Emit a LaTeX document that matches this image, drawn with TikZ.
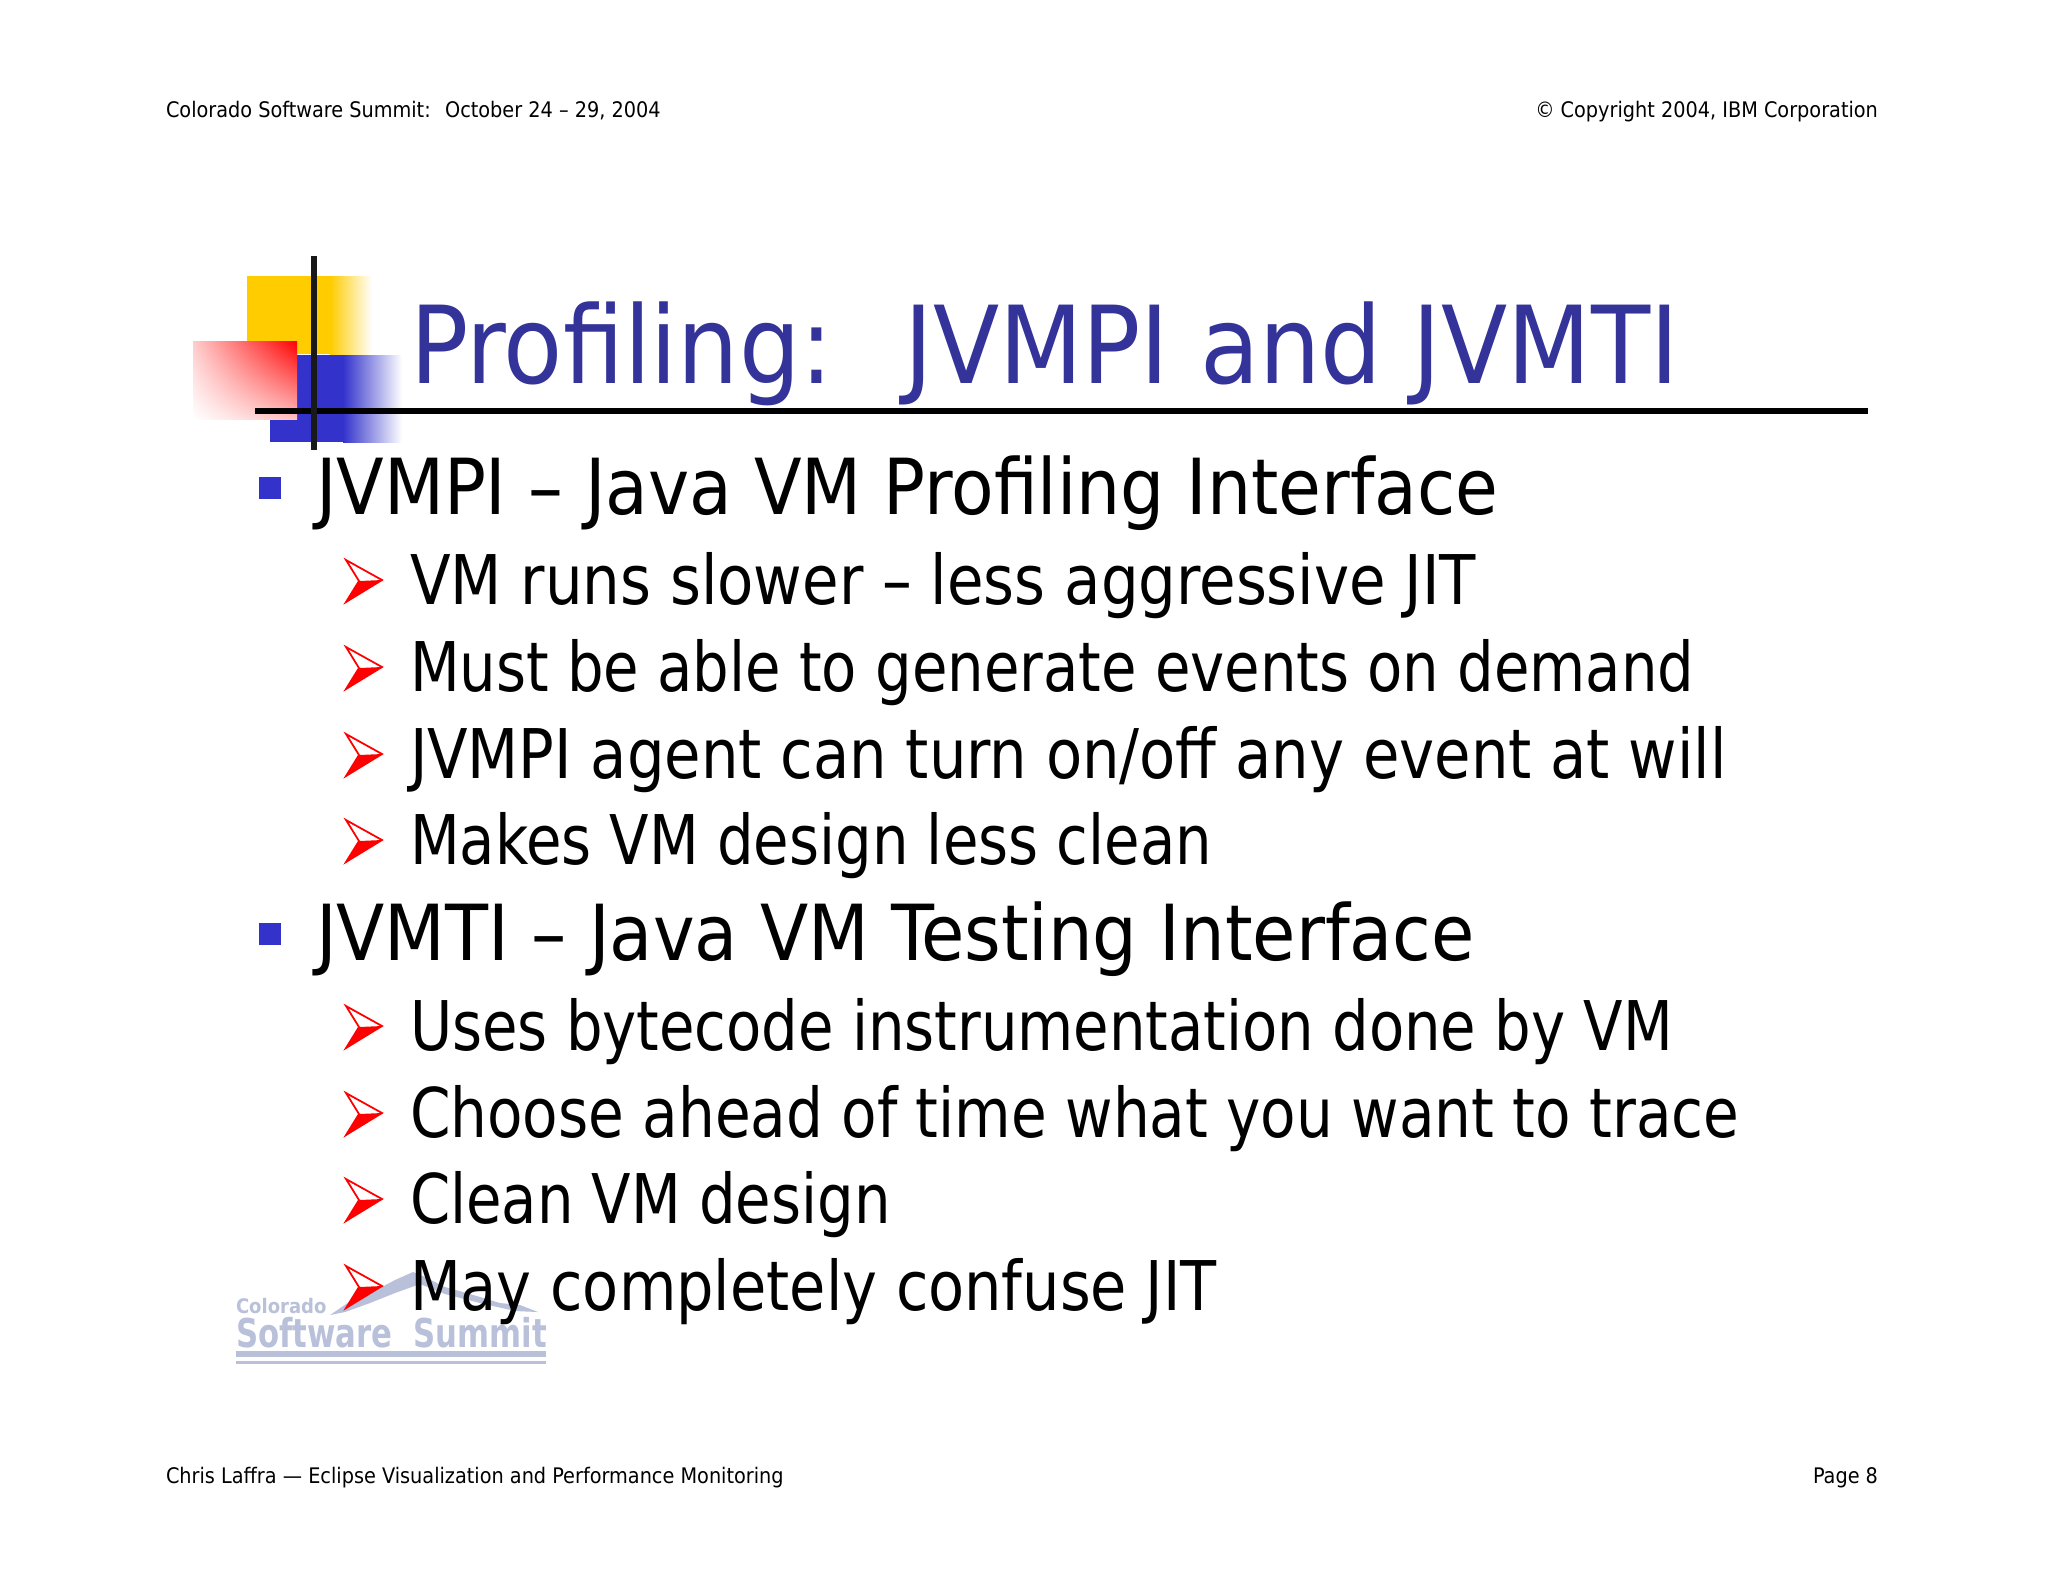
\documentclass[tikz,border=0pt]{standalone}
\usepackage{fontspec}
\setmainfont{DejaVu Sans Condensed}
\usepackage{tikz}
\usetikzlibrary{shadings}
\definecolor{titleblue}{HTML}{333399}
\definecolor{squareblue}{HTML}{3333CC}
\definecolor{squareyellow}{HTML}{FFCC00}
\definecolor{logoblue}{HTML}{B9C0DA}
\tikzset{
    every node/.style={inner sep=0pt,outer sep=0pt},
    small/.style={anchor=base west,font=\fontsize{6.1}{8}\selectfont},
    smallr/.style={anchor=base east,font=\fontsize{6.1}{8}\selectfont},
    titletext/.style={anchor=base west,text=titleblue,font=\fontsize{30.6}{36}\selectfont},
    lvlone/.style={anchor=base west,font=\fontsize{22}{26}\selectfont},
    lvltwo/.style={anchor=base west,xscale=.935,font=\fontsize{19.5}{23}\selectfont},
    bluebullet/.style={fill=squareblue,minimum width=6.5pt,minimum height=6.5pt},
    logotext/.style={anchor=base west,text=logoblue,font=\bfseries\fontsize{5.7}{7}\selectfont},
    redarrow/.pic={
        \fill[red] (-38,22) -- (-25,1) -- (-2,0) -- cycle;
        \draw[red,line width=.5pt,line join=miter] (-38,22) -- (-25,1) -- (-38,-20) -- (-2,0) -- cycle;
    }
}
\begin{document}
\begin{tikzpicture}[x=0.1mm,y=-0.1mm]
    \useasboundingbox (0,0) rectangle (2048,1582);
    \fill[white] (0,0) rectangle (2048,1582);

    % corner squares
    \fill[squareyellow] (247,276) rectangle (330,354);
    \shade[left color=squareyellow,right color=white] (330,276) rectangle (372,354);
    \fill[squareblue] (270,355) rectangle (343,442);
    \shade[left color=squareblue,right color=white] (343,355) rectangle (402,442);
    \fill[white] (193,341) rectangle (297,419);
    \shade[upper right=red,upper left=red!20,lower right=red!25,lower left=white] (193,341) rectangle (297,419);
    \draw[line width=1.6pt,black] (255,411) -- (1868,411);
    \draw[line width=1.6pt,black!90] (314,256) -- (314,450);

    % logo
    \fill[logoblue] (330,1315) -- (352,1300) -- (380,1288) -- (395,1280) -- (413,1272) -- (425,1277)
        -- (445,1287) -- (470,1294) -- (500,1303) -- (520,1305) -- (538,1312) -- (515,1311)
        -- (480,1303) -- (445,1294) -- (420,1284) -- (395,1293) -- (370,1303) -- (345,1312) -- cycle;
    \fill[logoblue] (236,1351) rectangle (546,1357);
    \fill[logoblue] (236,1361) rectangle (546,1364);
    \node[logotext] (logoa) at (236,1313) {Colorado};
    \node[logotext,xscale=.86,font=\bfseries\fontsize{11.3}{13}\selectfont] (logob) at (236,1347) {Software~ Summit};

    % header and footer
    \node[small] (head) at (166,117) {Colorado Software Summit:~ October 24 – 29, 2004};
    \node[smallr] (copy) at (1878,117) {© Copyright 2004, IBM Corporation};
    \node[small] (foot) at (166,1483) {Chris Laffra — Eclipse Visualization and Performance Monitoring};
    \node[smallr] (page) at (1878,1483) {Page 8};

    \node[titletext] (title) at (410,383) {Profiling:~ JVMPI and JVMTI};

    % first block
    \node[bluebullet] (q1) at (270,488) {};
    \node[lvlone] (a0) at (316,514) {JVMPI – Java VM Profiling Interface};
    \pic at (384,580) {redarrow};
    \node[lvltwo,xscale=1.03] (a1) at (410,604) {VM runs slower – less aggressive JIT};
    \pic at (384,667) {redarrow};
    \node[lvltwo] (a2) at (410,691) {Must be able to generate events on demand};
    \pic at (384,754) {redarrow};
    \node[lvltwo,xscale=1.027] (a3) at (410,778) {JVMPI agent can turn on/off any event at will};
    \pic at (384,840) {redarrow};
    \node[lvltwo] (a4) at (410,864) {Makes VM design less clean};

    % second block
    \node[bluebullet] (q2) at (270,934) {};
    \node[lvlone,xscale=1.012] (b0) at (316,960) {JVMTI – Java VM Testing Interface};
    \pic at (384,1026) {redarrow};
    \node[lvltwo] (b1) at (410,1050) {Uses bytecode instrumentation done by VM};
    \pic at (384,1113) {redarrow};
    \node[lvltwo,xscale=1.007] (b2) at (410,1137) {Choose ahead of time what you want to trace};
    \pic at (384,1199) {redarrow};
    \node[lvltwo] (b3) at (410,1223) {Clean VM design};
    \pic at (384,1286) {redarrow};
    \node[lvltwo,xscale=1.023] (b4) at (410,1310) {May completely confuse JIT};
\end{tikzpicture}
\end{document}
